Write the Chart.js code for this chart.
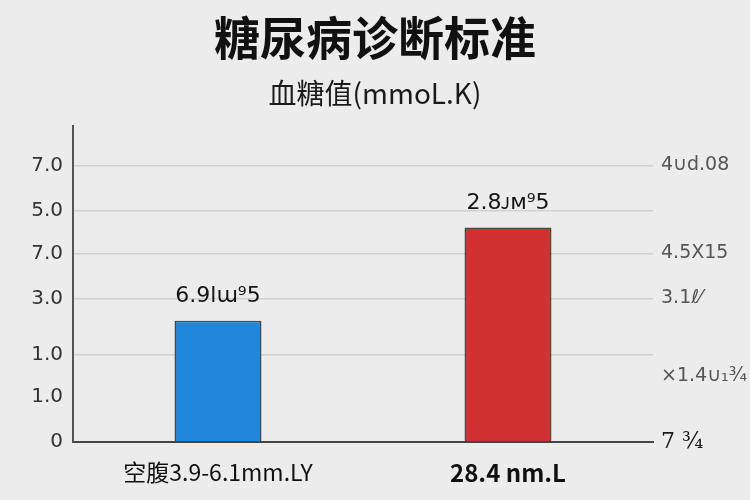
<!DOCTYPE html>
<html>
<head>
<meta charset="utf-8">
<script src="https://cdn.jsdelivr.net/npm/chart.js@4/dist/chart.umd.min.js"></script>
<style>
html,body{margin:0;padding:0;background:#ececec;}
#wrap{width:750px;height:500px;}
</style>
</head>
<body>
<div id="wrap"><canvas id="diabetesChart"></canvas></div>
<script>

// categories and values
const categories = ['空腹3.9-6.1mm.LY', '28.4 nm.L'];
const glucoseValues = [3.07, 5.43];
const barLabels = ['6.9lɯ⁹5', '2.8ᴊᴍ⁹5'];
const barColors = ['#1f87dc', '#d23131'];

// left axis ticks (value, label)
const leftTickValues = [0, 1.14, 2.21, 3.63, 4.77, 5.86, 7];
const leftTickLabels = ['0', '1.0', '1.0', '3.0', '7.0', '5.0', '7.0'];

// right axis ticks
const rightTickValues = [0, 1.67, 3.63, 4.77, 7];
const rightTickLabels = ['7 ¾', '×1.4∪₁¾', '3.1ℓ⁄', '4.5X15', '4∪d.08'];

const cjk = "'Noto Sans CJK SC', 'Noto Sans', sans-serif";

const bgPlugin = {
  id:'bg',
  beforeDraw(chart){
    const ctx = chart.ctx;
    ctx.save();
    ctx.fillStyle = '#ececec';
    ctx.fillRect(0, 0, chart.width, chart.height);
    ctx.restore();
  }
};

const barLabelPlugin = {
  id:'barLabels',
  afterDatasetsDraw(chart){
    const ctx = chart.ctx;
    const meta = chart.getDatasetMeta(0);
    ctx.save();
    ctx.font = "22px 'DejaVu Sans', sans-serif";
    ctx.fillStyle = '#141414';
    ctx.textAlign = 'center';
    ctx.textBaseline = 'middle';
    meta.data.forEach((bar, i) => {
      ctx.fillText(barLabels[i], bar.x, bar.y - 24);
    });
    ctx.restore();
  }
};

new Chart(
document.getElementById('diabetesChart'),
{
type:'bar',
data:{
  labels:categories,
  datasets:[{
    label:'血糖值',
    data:glucoseValues,
    backgroundColor:barColors,
    borderColor:'rgba(45,45,45,0.85)',
    borderWidth:1.5,
    barPercentage:0.3,
    categoryPercentage:1
  }]
},
options:{
  responsive:true,
  maintainAspectRatio:false,
  animation:false,
  layout:{padding:{left:0,right:0,top:0,bottom:0}},
  plugins:{
    legend:{display:false},
    tooltip:{enabled:false},
    title:{
      display:true,
      text:'糖尿病诊断标准',
      color:'#111',
      font:{family:cjk, size:46, weight:'bold'},
      padding:{top:10,bottom:11}
    },
    subtitle:{
      display:true,
      text:'血糖值(mmoL.K)',
      color:'#1a1a1a',
      font:{family:cjk, size:28},
      padding:{top:0,bottom:16}
    }
  },
  scales:{
    x:{
      grid:{display:false},
      border:{display:true,color:'#444',width:2},
      ticks:{
        color:'#111',
        padding:8,
        font:(c) => c.index === 1
          ? {family:cjk, size:24, weight:'bold'}
          : {family:cjk, size:23}
      },
      afterFit(scale){ scale.height = 58; }
    },
    y:{
      position:'left',
      min:0,
      max:8,
      afterBuildTicks(scale){
        scale.ticks = leftTickValues.map(v => ({value:v}));
      },
      ticks:{
        color:'#333',
        padding:10,
        font:{family:"'DejaVu Sans', sans-serif", size:20},
        callback:(value, index) => leftTickLabels[index]
      },
      grid:{
        drawTicks:false,
        color:(c) => (c.index === 1 || c.index === 0) ? 'rgba(0,0,0,0)' : '#d2d2d2',
        lineWidth:1.5
      },
      border:{display:true,color:'#555',width:2},
      afterFit(scale){ scale.width = 73; }
    },
    y2:{
      position:'right',
      min:0,
      max:8,
      afterBuildTicks(scale){
        scale.ticks = rightTickValues.map(v => ({value:v}));
      },
      ticks:{
        padding:0,
        color:(c) => c.index === 0 ? '#1a1a1a' : '#555',
        font:(c) => c.index === 0
          ? {family:"'DejaVu Serif', serif", size:22}
          : {family:"'DejaVu Sans', sans-serif", size:19},
        callback:(value, index) => rightTickLabels[index]
      },
      grid:{display:false},
      border:{display:false},
      afterFit(scale){ scale.width = 97; }
    }
  }
},
plugins:[bgPlugin, barLabelPlugin]
}
);

</script>
</body>
</html>
